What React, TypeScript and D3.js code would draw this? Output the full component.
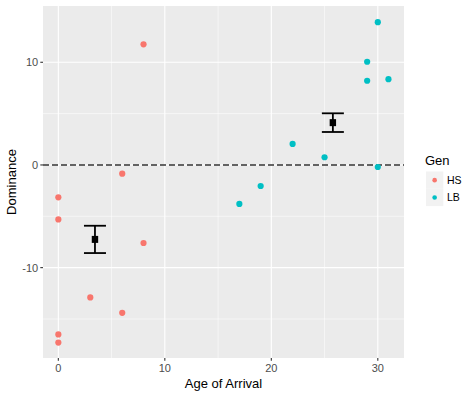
import * as d3 from 'd3';
import React from 'react';

// raw points
const hsAge = [8, 6, 0, 0, 8, 3, 6, 0, 0];
const hsDom = [11.75, -0.85, -3.15, -5.3, -7.6, -12.9, -14.4, -16.5, -17.3];
const lbAge = [30, 29, 29, 31, 22, 25, 30, 19, 17];
const lbDom = [13.9, 10.05, 8.2, 8.35, 2.05, 0.75, -0.2, -2.05, -3.8];

// group means with +- 1 SE
const groups = ['HS', 'LB'];
const meanAge = [3.44, 25.78];
const meanDom = [-7.25, 4.12];
const seDom = [1.33, 0.91];

const xTicks = [0, 10, 20, 30];
const yTicks = [-10, 0, 10];
const xMinor = [5, 15, 25];
const yMinor = [-15, -5, 5];

const colors = ['#F8766D', '#00BFC4'];

const W = 474, H = 396;
const panel = { left: 43, right: 404, top: 6, bottom: 358 };

function App() {
  const x = d3.scaleLinear().domain([-1.44, 32.46]).range([panel.left, panel.right]);
  const y = d3.scaleLinear().domain([-18.8, 15.48]).range([panel.bottom, panel.top]);

  const pts = [
    ...hsAge.map((a, i) => ({ a, d: hsDom[i], g: 0 })),
    ...lbAge.map((a, i) => ({ a, d: lbDom[i], g: 1 })),
  ];
  const capHalf = 11;

  return (
    <svg width={W} height={H} style={{ position: 'absolute', left: 0, top: 0 }}
      fontFamily="'Liberation Sans', Arial, sans-serif">
      <rect width={W} height={H} fill="#fff" />
      <rect x={panel.left} y={panel.top} width={panel.right - panel.left}
        height={panel.bottom - panel.top} fill="#EBEBEB" />
      {/* minor grid */}
      {xMinor.map(t => <line key={'xm' + t} x1={x(t)} x2={x(t)} y1={panel.top} y2={panel.bottom} stroke="#fff" strokeWidth={0.55} />)}
      {yMinor.map(t => <line key={'ym' + t} y1={y(t)} y2={y(t)} x1={panel.left} x2={panel.right} stroke="#fff" strokeWidth={0.55} />)}
      {/* major grid */}
      {xTicks.map(t => <line key={'xg' + t} x1={x(t)} x2={x(t)} y1={panel.top} y2={panel.bottom} stroke="#fff" strokeWidth={1.1} />)}
      {yTicks.map(t => <line key={'yg' + t} y1={y(t)} y2={y(t)} x1={panel.left} x2={panel.right} stroke="#fff" strokeWidth={1.1} />)}

      {/* zero line */}
      <line x1={panel.left} x2={panel.right} y1={y(0)} y2={y(0)} stroke="#333" strokeWidth={1.6} strokeDasharray="6,3" />

      {pts.map((p, i) => (
        <circle key={i} cx={x(p.a)} cy={y(p.d)} r={3.1} fill={colors[p.g]} />
      ))}

      {/* error bars */}
      {groups.map((g, i) => {
        const cx = x(meanAge[i]);
        const top = y(meanDom[i] + seDom[i]);
        const bot = y(meanDom[i] - seDom[i]);
        return (
          <g key={g} stroke="#000" strokeWidth={1.8}>
            <line x1={cx} x2={cx} y1={top} y2={bot} />
            <line x1={cx - capHalf} x2={cx + capHalf} y1={top} y2={top} />
            <line x1={cx - capHalf} x2={cx + capHalf} y1={bot} y2={bot} />
            <rect x={cx - 3.2} y={y(meanDom[i]) - 3.5} width={6.4} height={7} fill="#000" stroke="none" />
          </g>
        );
      })}

      {/* axes */}
      {xTicks.map(t => (
        <g key={'xt' + t}>
          <line x1={x(t)} x2={x(t)} y1={panel.bottom} y2={panel.bottom + 2.7} stroke="#333" strokeWidth={1.1} />
          <text x={x(t)} y={panel.bottom + 14.2} textAnchor="middle" fontSize={11} fill="#4D4D4D">{t}</text>
        </g>
      ))}
      {yTicks.map(t => (
        <g key={'yt' + t}>
          <line x1={panel.left - 2.7} x2={panel.left} y1={y(t)} y2={y(t)} stroke="#333" strokeWidth={1.1} />
          <text x={panel.left - 4.8} y={y(t) + 3.9} textAnchor="end" fontSize={11} fill="#4D4D4D">{t}</text>
        </g>
      ))}
      <text x={(panel.left + panel.right) / 2} y={388} textAnchor="middle" fontSize={13}>Age of Arrival</text>
      <text transform={`translate(15.5,${(panel.top + panel.bottom) / 2}) rotate(-90)`} textAnchor="middle" fontSize={13}>Dominance</text>

      {/* legend */}
      <text x={425} y={164.5} fontSize={13}>Gen</text>
      {groups.map((g, i) => (
        <g key={'lg' + g} transform={`translate(426,${171.5 + i * 17.3})`}>
          <rect width={17.3} height={17.3} fill="#F2F2F2" />
          <circle cx={8.65} cy={8.65} r={2.3} fill={colors[i]} />
          <text x={21} y={12.6} fontSize={10.5}>{g}</text>
        </g>
      ))}
    </svg>
  );
}

export default App;
